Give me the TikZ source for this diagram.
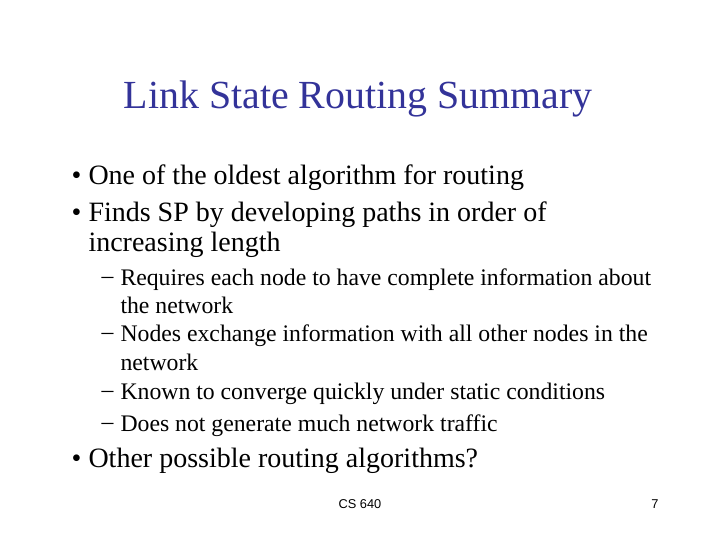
\documentclass[tikz,border=0pt]{standalone}
\usepackage{fontspec}
\setmainfont{Liberation Serif}
\setsansfont{Liberation Sans}
\tikzset{every picture/.style={line width=0.75pt}}
\begin{document}
\begin{tikzpicture}[x=0.75pt,y=0.75pt,yscale=-1,xscale=1]
\useasboundingbox (0,0) rectangle (720,540);

% Title
\draw (358,99) node [inner sep=0.75pt] [font=\fontsize{29.9}{34}\selectfont, color={rgb,255:red,51;green,51;blue,153}] (title) {Link State Routing Summary};

% Bullets
\draw (70,178) node [anchor=west][inner sep=0.75pt] [font=\fontsize{21}{25}\selectfont] (b1) {•};
\draw (87,178) node [anchor=west][inner sep=0.75pt] [font=\fontsize{21}{25}\selectfont] (t1) {One of the oldest algorithm for routing};
\draw (70,215) node [anchor=west][inner sep=0.75pt] [font=\fontsize{21}{25}\selectfont] (b2) {•};
\draw (87,215) node [anchor=west][inner sep=0.75pt] [font=\fontsize{21}{25}\selectfont] (t2) {Finds SP by developing paths in order of};
\draw (87,245) node [anchor=west][inner sep=0.75pt] [font=\fontsize{21}{25}\selectfont] (t2b) {increasing length};

% Sub-bullets
\draw (100,280) node [anchor=west][inner sep=0.75pt] [font=\fontsize{17.8}{21}\selectfont] (d1) {–};
\draw (119,280) node [anchor=west][inner sep=0.75pt] [font=\fontsize{17.8}{21}\selectfont] (s1) {Requires each node to have complete information about};
\draw (119,305) node [anchor=west][inner sep=0.75pt] [font=\fontsize{17.8}{21}\selectfont] (s1b) {the network};
\draw (100,336) node [anchor=west][inner sep=0.75pt] [font=\fontsize{17.8}{21}\selectfont] (d2) {–};
\draw (119,336) node [anchor=west][inner sep=0.75pt] [font=\fontsize{17.8}{21}\selectfont] (s2) {Nodes exchange information with all other nodes in the};
\draw (119,362) node [anchor=west][inner sep=0.75pt] [font=\fontsize{17.8}{21}\selectfont] (s2b) {network};
\draw (100,394) node [anchor=west][inner sep=0.75pt] [font=\fontsize{17.8}{21}\selectfont] (d3) {–};
\draw (119,394) node [anchor=west][inner sep=0.75pt] [font=\fontsize{17.8}{21}\selectfont] (s3) {Known to converge quickly under static conditions};
\draw (100,426) node [anchor=west][inner sep=0.75pt] [font=\fontsize{17.8}{21}\selectfont] (d4) {–};
\draw (119,426) node [anchor=west][inner sep=0.75pt] [font=\fontsize{17.8}{21}\selectfont] (s4) {Does not generate much network traffic};

\draw (70,461) node [anchor=west][inner sep=0.75pt] [font=\fontsize{21}{25}\selectfont] (b3) {•};
\draw (87,461) node [anchor=west][inner sep=0.75pt] [font=\fontsize{21}{25}\selectfont] (t3) {Other possible routing algorithms?};

% Footer
\draw (360,504) node [inner sep=0.75pt] [font=\sffamily\fontsize{9.6}{11}\selectfont] (foot) {CS 640};
\draw (655,504) node [inner sep=0.75pt] [font=\sffamily\fontsize{9.6}{11}\selectfont] (page) {7};

\end{tikzpicture}
\end{document}
